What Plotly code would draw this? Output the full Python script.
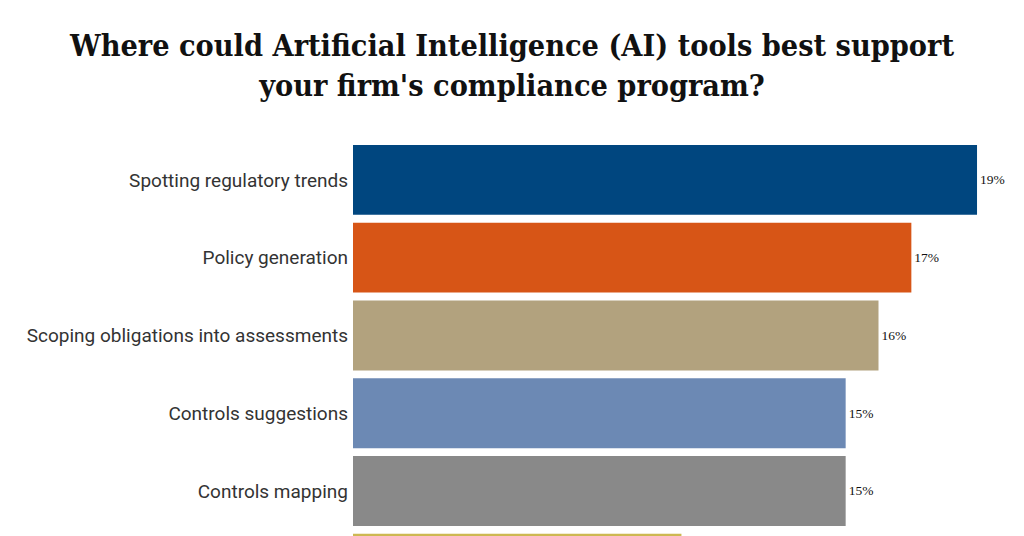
import plotly.graph_objects as go

categories = [
    "Spotting regulatory trends",
    "Policy generation",
    "Scoping obligations into assessments",
    "Controls suggestions",
    "Controls mapping",
    "Other",
]
values = [19, 17, 16, 15, 15, 10]
value_labels = ["19%", "17%", "16%", "15%", "15%", "10%"]
colors = ["#00467F", "#D75516", "#B2A27E", "#6C89B4", "#898989", "#CDB852"]

fig = go.Figure(
    go.Bar(
        x=values,
        y=categories,
        orientation="h",
        marker=dict(color=colors, line=dict(width=0)),
        width=0.9,
        text=value_labels,
        textposition="outside",
        textfont=dict(family="Liberation Serif", size=13.5, color="#111111"),
        cliponaxis=True,
        hoverinfo="skip",
    )
)

# The page body has an 8px margin, so the figure is sized/offset to compensate.
fig.update_layout(
    width=1016,
    height=528,
    margin=dict(l=345, r=0, t=133, b=0),
    paper_bgcolor="white",
    plot_bgcolor="white",
    showlegend=False,
    title=dict(
        text="Where could Artificial Intelligence (AI) tools best support<br>your firm's compliance program?",
        x=504 / 1016,
        xanchor="center",
        xref="container",
        y=0.9083,
        yanchor="top",
        yref="container",
        font=dict(family="DejaVu Serif Condensed, DejaVu Serif", size=30.3, color="#111111", weight="bold"),
    ),
    xaxis=dict(range=[0, 20.43], visible=False, showgrid=False, zeroline=False),
    yaxis=dict(
        type="category",
        categoryorder="array",
        categoryarray=categories,
        range=[4.58, -0.5],
        showgrid=False,
        zeroline=False,
        showline=False,
        ticks="",
        ticklabelstandoff=4,
        tickfont=dict(family="Roboto", size=19, color="#333333"),
    ),
)

fig.write_html("out.html")
